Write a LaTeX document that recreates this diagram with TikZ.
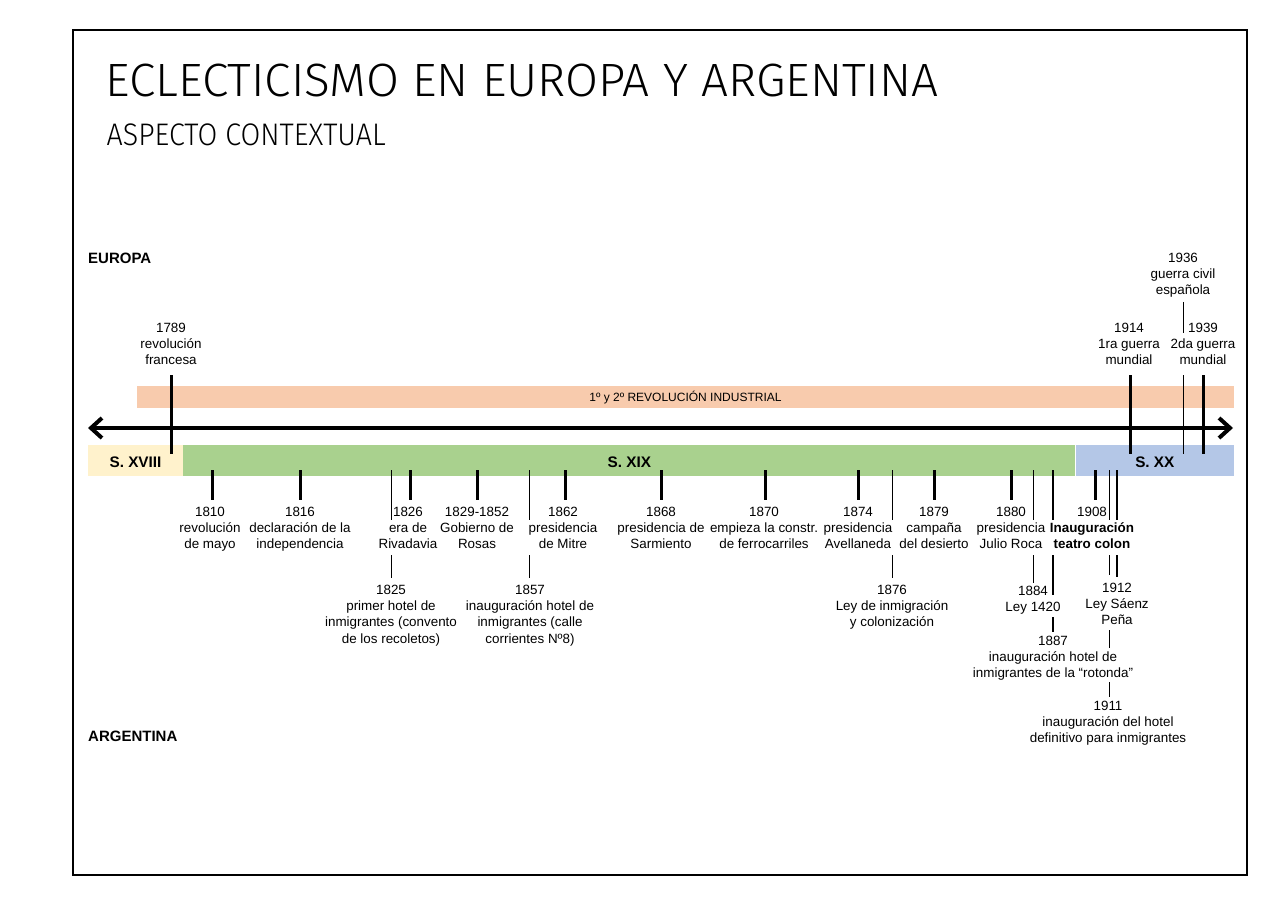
\documentclass[tikz,border=0pt]{standalone}
\usepackage{graphicx}
\usepackage{fontspec}
\setmainfont{Liberation Sans}
\IfFontExistsTF{Fira Sans Light}{\newfontfamily\thinfont{Fira Sans Light}}{\newfontfamily\thinfont{Liberation Sans}}
\usetikzlibrary{arrows.meta}

\definecolor{peach}{HTML}{F8CBAD}
\definecolor{cream}{HTML}{FFF2CC}
\definecolor{leaf}{HTML}{A9D18E}
\definecolor{sky}{HTML}{B4C7E7}

\tikzset{
  lbl/.style={align=center, anchor=north, inner sep=0pt, font=\fontsize{13.4}{16.2}\selectfont},
  band/.style={inner sep=0pt, minimum height=31pt, text height=13pt, text depth=0pt, font=\fontsize{15.3}{18}\selectfont\bfseries},
  tick/.style={line width=3pt},
  hair/.style={line width=1pt},
  midline/.style={line width=1.8pt},
  eje/.style={line width=4pt, arrows={Straight Barb[length=11pt,width=20pt]-Straight Barb[length=11pt,width=20pt]}},
}

\begin{document}
\begin{tikzpicture}[x=1pt, y=-1pt]
	\useasboundingbox (0,0) rectangle (1280,905);
	\draw[line width=1.3pt] (73,30) rectangle (1247,875);

	\node[anchor=south west, inner sep=0pt] (titulo) at (105,97.5)
	    {\resizebox{833pt}{32.5pt}{\thinfont ECLECTICISMO EN EUROPA Y ARGENTINA}};
	\node[anchor=south west, inner sep=0pt] (subtitulo) at (106.5,146.5)
	    {\resizebox{279pt}{21.7pt}{\thinfont ASPECTO CONTEXTUAL}};
	\node[anchor=base west, inner sep=0pt, font=\fontsize{15}{18}\selectfont\bfseries] (europa) at (88,263.5) {EUROPA};
	\node[anchor=base west, inner sep=0pt, font=\fontsize{15}{18}\selectfont\bfseries] (argentina) at (88,741.5) {ARGENTINA};

	% franjas
	\node[band, fill=peach, minimum width=1097pt, minimum height=22pt, text height=8.6pt, font=\fontsize{12}{14}\selectfont] (industrial) at (685.5,397) {1º y 2º REVOLUCIÓN INDUSTRIAL};
	\node[band, fill=cream, minimum width=95pt] (s18) at (135.5,460.5) {S. XVIII};
	\node[band, fill=leaf, minimum width=892pt, anchor=west] (s19) at (s18.east) {S. XIX};
	\node[band, fill=sky, minimum width=158pt, anchor=west] (s20) at (s19.east) {S. XX};

	\coordinate (izq) at (88,428);
	\coordinate (der) at (1233,428);
	\draw[eje] (izq) -- (der);

	% niveles
	\coordinate (g_0) at (0,333);
	\coordinate (euA) at (0,375);
	\coordinate (euB) at (0,454);
	\coordinate (arA) at (0,470);
	\coordinate (arB) at (0,500);
	\coordinate (g_1) at (0,520);
	\coordinate (g_2) at (0,555);
	\coordinate (g_3) at (0,595);
	\coordinate (g_4) at (0,617);
	\coordinate (g_5) at (0,575);
	\coordinate (g_6) at (0,630);
	\coordinate (g_7) at (0,648);
	\coordinate (g_8) at (0,682);

	% europa
	\coordinate (t1789) at (171,0);
	\coordinate (t1914) at (1130,0);
	\coordinate (t1936) at (1183,0);
	\coordinate (t1939) at (1203,0);
	\node[lbl] (e1789) at (171,323) {1789\\revolución\\francesa};
	\node[lbl] (e1914) at (1129,323) {1914\\1ra guerra\\mundial};
	\node[lbl] (e1939) at (1203,323) {1939\\2da guerra\\mundial};
	\node[lbl] (e1936) at (1183,253) {1936\\guerra civil\\española};
	\draw[tick] (t1789 |- euA) -- (t1789 |- euB);
	\draw[tick] (t1914 |- euA) -- (t1914 |- euB);
	\draw[tick] (t1939 |- euA) -- (t1939 |- euB);
	\draw[hair, shorten <=4pt] (e1936.south) -- (t1936 |- g_0);
	\draw[hair] (t1936 |- euA) -- (t1936 |- euB);

	% argentina
	\coordinate (t1810) at (212,0);
	\coordinate (t1816) at (300,0);
	\coordinate (t1825) at (391,0);
	\coordinate (t1826) at (410,0);
	\coordinate (t1829) at (477,0);
	\coordinate (t1857) at (529,0);
	\coordinate (t1862) at (565,0);
	\coordinate (t1868) at (661,0);
	\coordinate (t1870) at (765,0);
	\coordinate (t1874) at (858,0);
	\coordinate (t1876) at (892,0);
	\coordinate (t1879) at (934,0);
	\coordinate (t1880) at (1011,0);
	\coordinate (t1884) at (1033,0);
	\coordinate (t1887) at (1053,0);
	\coordinate (t1908) at (1095,0);
	\coordinate (t1911) at (1109,0);
	\coordinate (t1912) at (1117,0);

	\node[lbl] (e1810) at (210,507) {1810\\revolución\\de mayo};
	\node[lbl] (e1816) at (300,507) {1816\\declaración de la\\independencia};
	\node[lbl] (e1826) at (408,507) {1826\\era de\\Rivadavia};
	\node[lbl] (e1829) at (477,507) {1829-1852\\Gobierno de\\Rosas};
	\node[lbl] (e1862) at (563,507) {1862\\presidencia\\de Mitre};
	\node[lbl] (e1868) at (661,507) {1868\\presidencia de\\Sarmiento};
	\node[lbl] (e1870) at (764,507) {1870\\empieza la constr.\\de ferrocarriles};
	\node[lbl] (e1874) at (858,507) {1874\\presidencia\\Avellaneda};
	\node[lbl] (e1879) at (934,507) {1879\\campaña\\del desierto};
	\node[lbl] (e1880) at (1011,507) {1880\\presidencia\\Julio Roca};
	\node[lbl] (e1908) at (1092,507) {1908\\\textbf{Inauguración}\\\textbf{teatro colon}};

	\node[lbl] (e1825) at (391,585) {1825\\primer hotel de\\inmigrantes (convento\\de los recoletos)};
	\node[lbl] (e1857) at (530,585) {1857\\inauguración hotel de\\inmigrantes (calle\\corrientes Nº8)};
	\node[lbl] (e1876) at (892,585) {1876\\Ley de inmigración\\y colonización};
	\node[lbl] (e1884) at (1033,586) {1884\\Ley 1420};
	\node[lbl] (e1912) at (1117,583) {1912\\Ley Sáenz\\Peña};
	\node[lbl] (e1887) at (1053,636) {1887\\inauguración hotel de\\inmigrantes de la “rotonda”};
	\node[lbl] (e1911) at (1108,701) {1911\\inauguración del hotel\\definitivo para inmigrantes};

	\draw[tick] (t1810 |- arA) -- (t1810 |- arB);
	\draw[tick] (t1816 |- arA) -- (t1816 |- arB);
	\draw[tick] (t1826 |- arA) -- (t1826 |- arB);
	\draw[tick] (t1829 |- arA) -- (t1829 |- arB);
	\draw[tick] (t1862 |- arA) -- (t1862 |- arB);
	\draw[tick] (t1868 |- arA) -- (t1868 |- arB);
	\draw[tick] (t1870 |- arA) -- (t1870 |- arB);
	\draw[tick] (t1874 |- arA) -- (t1874 |- arB);
	\draw[tick] (t1879 |- arA) -- (t1879 |- arB);
	\draw[tick] (t1880 |- arA) -- (t1880 |- arB);
	\draw[tick] (t1908 |- arA) -- (t1908 |- arB);

	\draw[hair] (t1825 |- arA) -- (t1825 |- g_1);
	\draw[hair, shorten >=7pt] (t1825 |- g_2) -- (t1825 |- e1825.north);
	\draw[hair] (t1857 |- arA) -- (t1857 |- g_1);
	\draw[hair, shorten >=7pt] (t1857 |- g_2) -- (t1857 |- e1857.north);
	\draw[hair] (t1876 |- arA) -- (t1876 |- g_1);
	\draw[hair, shorten >=7pt] (t1876 |- g_2) -- (t1876 |- e1876.north);
	\draw[hair] (t1884 |- arA) -- (t1884 |- g_1);
	\draw[hair, shorten >=3pt] (t1884 |- g_2) -- (t1884 |- e1884.north);
	\draw[midline] (t1887 |- arA) -- (t1887 |- g_1);
	\draw[midline] (t1887 |- g_2) -- (t1887 |- g_3);
	\draw[midline, shorten >=4pt] (t1887 |- g_4) -- (t1887 |- e1887.north);
	\draw[midline] (t1912 |- arA) -- (t1912 |- g_1);
	\draw[midline, shorten >=6pt] (t1912 |- g_2) -- (t1912 |- e1912.north);
	\draw[hair] (t1911 |- arA) -- (t1911 |- g_1);
	\draw[hair] (t1911 |- g_2) -- (t1911 |- g_5);
	\draw[hair] (t1911 |- g_6) -- (t1911 |- g_7);
	\draw[hair, shorten >=4pt] (t1911 |- g_8) -- (t1911 |- e1911.north);
\end{tikzpicture}
\end{document}
